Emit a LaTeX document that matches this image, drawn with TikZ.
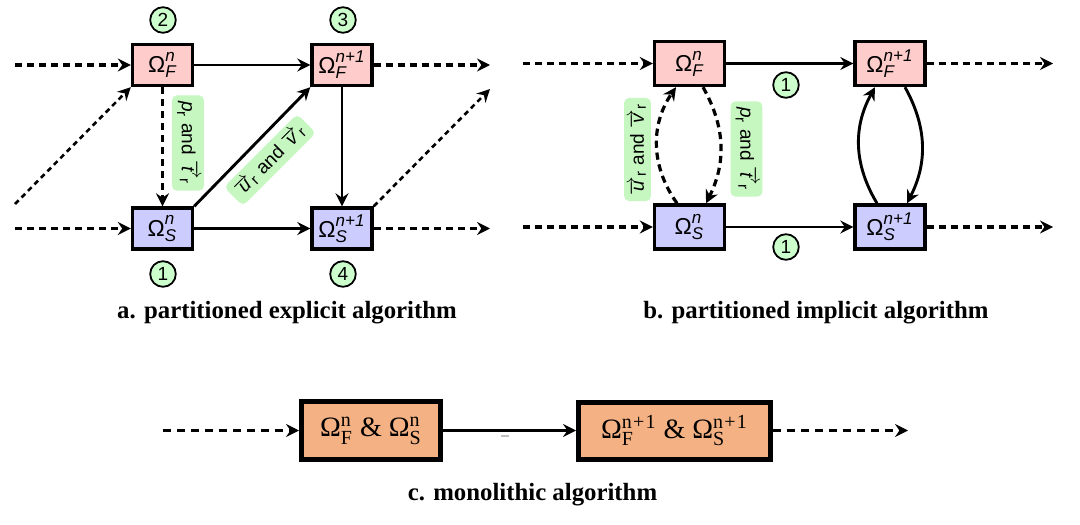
\documentclass[tikz,border=0pt]{standalone}
\usepackage{fontspec}
\setmainfont{Liberation Serif}
\newfontfamily\hv{Liberation Sans}
\usetikzlibrary{arrows.meta}
\definecolor{fpink}{HTML}{FFCCCC}
\definecolor{sblue}{HTML}{CCCCFF}
\definecolor{cgreen}{HTML}{CCFFCC}
\definecolor{lgreen}{HTML}{C6F7C0}
\definecolor{morange}{HTML}{F4B183}
\newcommand{\OM}[2]{\hbox{\hv\fontsize{11.5}{12}\selectfont Ω}^{\hbox{\hv\itshape\fontsize{8.5}{9}\selectfont #1}}_{\hbox{\hv\itshape\fontsize{8.5}{9}\selectfont #2}}}
\newcommand{\OC}[2]{\hbox{Ω}^{\hbox{\fontsize{10}{11}\selectfont #1}}_{\hbox{\fontsize{10}{11}\selectfont #2}}}
\newcommand{\RS}{\hbox{\hv\fontsize{7.5}{8}\selectfont r}}
\newcommand{\VR}[1]{$\overrightarrow{\hbox{\hv\itshape #1}}_{\RS}$}
\newcommand{\PR}{$\hbox{\hv\itshape p}_{\RS}$}
\begin{document}
\begin{tikzpicture}[x=0.5pt,y=-0.5pt,
  >={Stealth[length=6.5pt,width=6.5pt,inset=2.2pt]},
  boxa/.style={draw, line width=1.7pt, inner sep=0pt, minimum width=30pt, minimum height=20.5pt},
  boxb/.style={draw, line width=1.7pt, inner sep=0pt, minimum width=35pt, minimum height=22pt},
  fluid/.style={fill=fpink},
  solidbody/.style={fill=sblue},
  numc/.style={circle, draw, line width=0.9pt, fill=cgreen, minimum size=12.8pt, inner sep=0pt, font=\hv\fontsize{9.5}{10}\selectfont},
  lbl/.style={fill=lgreen, rounded corners=2.5pt, inner xsep=3pt, inner ysep=2.5pt, font=\hv\fontsize{9.5}{10}\selectfont},
  conn/.style={line width=1.45pt, ->},
  dashconn/.style={line width=1.6pt, ->, dash pattern=on 3.6pt off 2.4pt},
  dotconn/.style={line width=1.3pt, ->, dash pattern=on 2.6pt off 2pt},
  captext/.style={font=\bfseries\fontsize{12.4}{14}\selectfont},
  mono/.style={draw, line width=2.5pt, fill=morange, inner sep=0pt, font=\fontsize{14}{16}\selectfont},
  cdash/.style={line width=1.7pt, ->, dash pattern=on 4pt off 3pt},
  cconn/.style={line width=1.7pt, ->}]
\useasboundingbox (0,0) rectangle (1080,524);

% ---------- panel a ----------
\node[boxa,fluid] (aF0) at (162.5,65) {$\OM{n}{F}$};
\node[boxa,fluid] (aF1) at (342,65) {$\OM{n+1}{F}$};
\node[boxa,solidbody] (aS0) at (162.5,228.5) {$\OM{n}{S}$};
\node[boxa,solidbody] (aS1) at (342,228.5) {$\OM{n+1}{S}$};
\node[numc] (a2) at (163,20) {2};
\node[numc] (a3) at (343,20) {3};
\node[numc] (a1) at (163,274) {1};
\node[numc] (a4) at (343,274) {4};
\coordinate (aL1) at (15,65);
\coordinate (aR1) at (490,65);
\coordinate (aL2) at (15,228.5);
\coordinate (aR2) at (490,228.5);
\coordinate (aD1) at (15,204);
\coordinate (aD2) at (490,89);
\draw[dashconn] (aL1) -- (aF0);
\draw[dashconn] (aF1) -- (aR1);
\draw[dashconn] (aL2) -- (aS0);
\draw[dashconn] (aS1) -- (aR2);
\draw[dotconn] (aD1) -- (aF0.south west);
\draw[dotconn] (aS1.north east) -- (aD2);
\draw[dashconn] (aF0) -- (aS0);
\draw[conn] (aF0) -- (aF1);
\draw[conn] (aS0) -- (aS1);
\draw[conn] (aF1) -- (aS1);
\draw[conn] (aS0.north east) -- (aF1.south west);
\node[lbl, rotate=-90] (aPT) at (188,143) {\PR{} and \VR{t}};
\node[lbl, rotate=45] (aUV) at (270,160) {\VR{u} and \VR{v}};
\node[captext] (capA) at (287,313) {a. partitioned explicit algorithm};

% ---------- panel b ----------
\node[boxb,fluid] (bF0) at (689.5,63.5) {$\OM{n}{F}$};
\node[boxb,fluid] (bF1) at (890,63.5) {$\OM{n+1}{F}$};
\node[boxb,solidbody] (bS0) at (689.5,227) {$\OM{n}{S}$};
\node[boxb,solidbody] (bS1) at (890,227) {$\OM{n+1}{S}$};
\node[numc] (b1) at (786,85) {1};
\node[numc] (b1s) at (786,247) {1};
\coordinate (bL1) at (523,63.5);
\coordinate (bR1) at (1053,63.5);
\coordinate (bL2) at (523,227);
\coordinate (bR2) at (1053,227);
\draw[dashconn] (bL1) -- (bF0);
\draw[dashconn] (bF1) -- (bR1);
\draw[dashconn] (bL2) -- (bS0);
\draw[dashconn] (bS1) -- (bR2);
\draw[conn] (bF0) -- (bF1);
\draw[conn] (bS0) -- (bS1);
\draw[dashconn] ([xshift=-6.25pt]bS0.north) to[bend left=35] ([xshift=-6.75pt]bF0.south);
\draw[dashconn] ([xshift=6.75pt]bF0.south) to[bend left=28] ([xshift=8.25pt]bS0.north);
\draw[conn] ([xshift=-6.5pt]bS1.north) to[bend left=30] ([xshift=-7.5pt]bF1.south);
\draw[conn] ([xshift=7.5pt]bF1.south) to[bend left=28] ([xshift=8.5pt]bS1.north);
\node[lbl, rotate=90] (bUV) at (637.5,149.5) {\VR{u} and \VR{v}};
\node[lbl, rotate=-90] (bPT) at (746.5,149) {\PR{} and \VR{t}};
\node[captext] (capB) at (816,313) {b. partitioned implicit algorithm};

% ---------- panel c ----------
\node[mono, minimum width=69.5pt, minimum height=29pt] (cA) at (371,430.5) {$\OC{n}{F}$ \& $\OC{n}{S}$};
\node[mono, minimum width=96pt, minimum height=28.5pt] (cB) at (674.5,430.5) {$\OC{n\kern0.6pt+\kern0.6pt1}{F}$ \& $\OC{n\kern0.6pt+\kern0.6pt1}{S}$};
\coordinate (cL) at (163,430.5);
\coordinate (cR) at (908,430.5);
\draw[cdash] (cL) -- (cA);
\draw[cconn] (cA) -- (cB);
\draw[cdash] (cB) -- (cR);
\draw[gray!50, line width=0.8pt] (501,436) -- (509,436);
\node[captext] (capC) at (532.5,495) {c. monolithic algorithm};
\end{tikzpicture}
\end{document}
